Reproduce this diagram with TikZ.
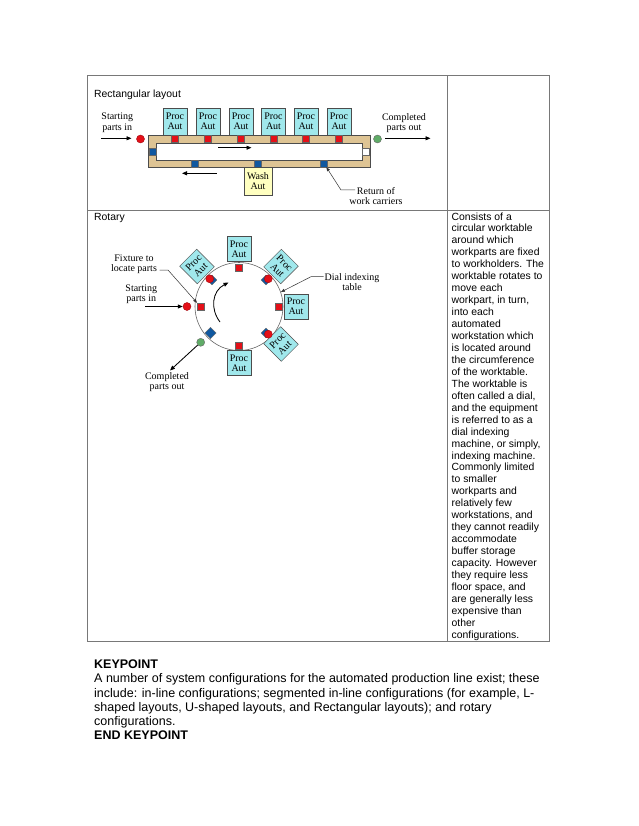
\documentclass[tikz,border=0pt]{standalone}
\usepackage{fontspec}
\setmainfont{Liberation Serif}
\newfontfamily\arial{Liberation Sans}
\usetikzlibrary{arrows.meta}
\definecolor{proccol}{RGB}{160,232,236}
\definecolor{tancol}{RGB}{222,196,148}
\definecolor{redp}{RGB}{228,16,24}
\definecolor{bluep}{RGB}{16,88,160}
\definecolor{greenp}{RGB}{96,172,104}
\definecolor{washcol}{RGB}{255,255,192}
\definecolor{gridcol}{RGB}{120,120,120}
\tikzset{
  lbl/.style={font=\fontsize{10}{10.2}\selectfont, align=center, inner sep=0},
  procbox/.style={draw=black!70, fill=proccol, minimum width=24, minimum height=27, inner sep=0, align=center, font=\fontsize{10}{10}\selectfont},
  rprocbox/.style={procbox, minimum height=25},
  washbox/.style={procbox, fill=washcol, minimum width=28, minimum height=28},
  rsq/.style={draw=black!60, fill=redp, minimum size=7, inner sep=0},
  bsq/.style={draw=black!60, fill=bluep, minimum size=7, inner sep=0},
  wsq/.style={draw=black!60, fill=white, minimum size=7, inner sep=0},
  rdot/.style={circle, draw=redp!70!black, fill=redp, minimum size=8, inner sep=0},
  gdot/.style={circle, draw=black!60, fill=greenp, minimum size=8, inner sep=0},
  arr/.style={-{Triangle[length=5pt,width=4pt]}, line width=0.85pt, black},
  lead/.style={-{Triangle[length=4pt,width=3pt]}, line width=0.5pt, black!80},
  grid/.style={draw=gridcol, line width=0.9pt},
  tabtext/.style={font=\arial\fontsize{10.4}{12}\selectfont, inner sep=0, anchor=base west},
  keytext/.style={font=\arial\fontsize{12.5}{14.2}\selectfont, inner sep=0, anchor=base west},
}
\begin{document}
\begin{tikzpicture}[x=1pt,y=-1pt]
\fill[white] (0,0) rectangle (638,826);
\useasboundingbox (0,0) rectangle (638,826);
% table
\draw[grid] (87.5,75.5) rectangle (549,641);
\draw[grid] (87.5,210) -- (549,210);
\draw[grid] (447,75.5) -- (447,641);
\node[tabtext] (t1) at (94,98) {Rectangular layout};
\node[tabtext] (t2) at (94,220.5) {Rotary};

% ---------- Rectangular layout ----------
\fill[tancol, draw=black!70, line width=0.5pt] (148.7,135) rectangle (370.7,167.7);
\fill[white, draw=black!70, line width=0.5pt] (156.3,143.3) rectangle (362,160);
\foreach \x [count=\i] in {175,208,241,273.5,306,339}{
  \node[procbox, anchor=south] (p\i) at (\x,135) {Proc\\Aut};
  \node[rsq] (r\i) at (\x,139) {};
}
\node[rdot] (rin) at (140.5,139) {};
\node[gdot] (gout) at (377.5,139) {};
\node[bsq] (bl) at (153,151.7) {};
\node[wsq] (wr) at (365.5,151.7) {};
\node[bsq] (b1) at (194.7,163.5) {};
\node[bsq] (b2) at (258,163.5) {};
\node[bsq] (b3) at (324,163.5) {};
\node[washbox, anchor=north] (wash) at (258,166.7) {Wash\\Aut};
\coordinate (ia1) at (218,147.7);
\coordinate (ia2) at (251.5,147.7);
\draw[arr] (ia1) -- (ia2);
\coordinate (oa1) at (216.5,173.3);
\coordinate (oa2) at (182,173.3);
\draw[arr] (oa1) -- (oa2);
\node[lbl] (sp) at (117.3,122.8) {Starting\\parts in};
\coordinate (sa1) at (101,138.3);
\coordinate (sa2) at (131.5,138.3);
\draw[arr] (sa1) -- (sa2);
\node[lbl] (cp) at (404,122.8) {Completed\\parts out};
\coordinate (ca1) at (385,138.3);
\coordinate (ca2) at (430.5,138.3);
\draw[arr] (ca1) -- (ca2);
\node[lbl] (ret) at (376,196) {Return of\\work carriers};
\coordinate (rl1) at (355,190);
\coordinate (rl2) at (341,190);
\draw[lead] (rl1) -- (rl2) -- (b3);

% ---------- Rotary ----------
\node[circle, draw=black!60, line width=0.6pt, minimum size=88, inner sep=0] (dial) at (239,306.5) {};
\node[rprocbox] (q1) at (239,249) {Proc\\Aut};
\node[rprocbox] (q2) at (239,363) {Proc\\Aut};
\node[rprocbox] (q3) at (296,306.5) {Proc\\Aut};
\node[rprocbox, rotate=45] (q4) at (197,266.5) {Proc\\Aut};
\node[rprocbox, rotate=-45] (q5) at (281,266.5) {Proc\\Aut};
\node[rprocbox, rotate=45] (q6) at (281,344) {Proc\\Aut};
\node[rsq] (s1) at (239,267.5) {};
\node[rsq] (s2) at (278.5,306.5) {};
\node[rsq] (s3) at (239,345.5) {};
\node[rsq] (s4) at (200.3,306.5) {};
\node[bsq, rotate=45] (d1) at (212,280) {};
\node[bsq, rotate=45] (d2) at (266,280) {};
\node[bsq, rotate=45] (d3) at (266,333) {};
\node[rdot] (c1) at (209.7,278.8) {};
\node[rdot] (c2) at (268.3,278.8) {};
\node[rdot] (c3) at (268.3,334.2) {};
\node[bsq, rotate=45, minimum size=8] (d4) at (210.5,333) {};
\node[rdot] (rstart) at (187,306.5) {};
\node[gdot] (gend) at (200.7,342.3) {};
\coordinate (rs1) at (145.3,306.5);
\draw[arr] (rs1) -- (rstart);
\coordinate (ge1) at (170,370.5);
\draw[arr] (gend) -- (ge1);
\coordinate (cu1) at (220,322);
\coordinate (cu2) at (210,309);
\coordinate (cu3) at (212,291);
\coordinate (cu4) at (228.5,282.5);
\draw[arr] (cu1) .. controls (cu2) and (cu3) .. (cu4);
\node[lbl] (fx) at (134,264.5) {Fixture to\\locate parts};
\coordinate (fl1) at (159.5,270);
\coordinate (fl2) at (168,270);
\draw[lead] (fl1) -- (fl2) -- (s4);
\node[lbl] (spr) at (141.3,294) {Starting\\parts in};
\node[lbl] (di) at (352,282) {Dial indexing\\table};
\coordinate (dl1) at (323.5,276.7);
\coordinate (dl2) at (311,276.7);
\draw[lead] (dl1) -- (dl2) -- (dial.19);
\node[lbl] (cpr) at (167,382) {Completed\\parts out};

% ---------- right column text ----------
\foreach \ln [count=\i] in {{Consists of a},{circular worktable},{around which},{workparts are fixed},{to workholders. The},{worktable rotates to},{move each},{workpart, in turn,},{into each},{automated},{workstation which},{is located around},{the circumference},{of the worktable.},{The worktable is},{often called a dial,},{and the equipment},{is referred to as a},{dial indexing},{machine, or simply,},{indexing machine.},{Commonly limited},{to smaller},{workparts and},{relatively few},{workstations, and},{they cannot readily},{accommodate},{buffer storage},{capacity. However},{they require less},{floor space, and},{are generally less},{expensive than},{other},{configurations.}}{
  \node[tabtext] (d\i) at (451.5,{220+11.95*(\i-1)}) {\ln};
}

% ---------- keypoint ----------
\node[keytext] (k1) at (94,668.6) {\bfseries KEYPOINT};
\node[keytext] (k2) at (94,682.8) {A number of system configurations for the automated production line exist; these};
\node[keytext] (k3) at (94,697.0) {include: in-line configurations; segmented in-line configurations (for example, L-};
\node[keytext] (k4) at (94,711.2) {shaped layouts, U-shaped layouts, and Rectangular layouts); and rotary};
\node[keytext] (k5) at (94,725.4) {configurations.};
\node[keytext] (k6) at (94,739.6) {\bfseries END KEYPOINT};
\end{tikzpicture}
\end{document}
